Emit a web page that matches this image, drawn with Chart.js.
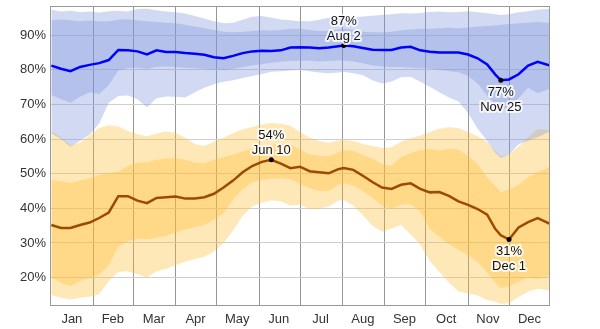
<!DOCTYPE html>
<html>
<head>
<meta charset="utf-8">
<script src="https://cdn.jsdelivr.net/npm/chart.js@4.4.0/dist/chart.umd.min.js"></script>
<style>
  html, body { margin: 0; padding: 0; background: #fff; }
  #wrap { width: 600px; height: 329px; }
</style>
</head>
<body>
<div id="wrap"><canvas id="c" width="600" height="329"></canvas></div>
<script>
// Calendar (leap year) and axis labels
const monthNames = ['Jan','Feb','Mar','Apr','May','Jun','Jul','Aug','Sep','Oct','Nov','Dec'];
const monthLengths = [31,29,31,30,31,30,31,31,30,31,30,31];
const yTicks = [20,30,40,50,60,70,80,90];

// Day of year for each sample
const days = [1,8,15,22,29,36,43,50,57,64,71,78,85,92,99,106,113,120,127,134,141,148,155,162,169,176,183,190,197,204,211,215,222,229,236,243,250,257,264,271,278,285,292,299,306,313,320,326,330,336,343,350,357,366];

// Daily high relative humidity (%): median and percentile bands
const hiMedian = [81.2,80.3,79.6,80.8,81.4,81.9,82.8,85.7,85.6,85.3, 84.4,85.6,85.1,85.1,84.8,84.6,84.3,83.6,83.3,84.0, 84.8,85.3,85.5,85.4,85.6,86.4,86.5,86.4,86.2,86.4, 86.8,87.0,86.8,86.3,85.8,85.7,85.7,86.4,86.6,85.6, 85.2,85.0,85.0,85.0,84.4,83.3,81.5,78.6,77.0,77.2, 78.7,81.2,82.3,81.2];
const hiP90 = [97.3,96.8,97.0,96.6,96.8,96.5,96.9,97.0,96.8,97.5, 97.6,97.2,96.8,96.6,96.2,95.5,94.8,94.0,93.4,93.6, 94.4,95.3,95.5,95.0,94.5,94.3,94.0,94.0,94.4,95.0, 95.3,95.2,95.0,95.4,95.6,95.8,96.0,96.3,96.2,96.4, 96.7,96.8,96.6,96.7,96.9,96.6,96.3,96.0,95.8,96.0, 96.6,96.9,97.3,97.6];
const hiP75 = [94.3,94.5,94.3,94.0,94.2,94.0,94.0,94.4,94.6,94.3, 94.0,93.8,93.6,93.4,93.0,92.5,92.0,91.5,91.0,90.8, 91.0,91.2,91.4,91.3,91.5,91.8,91.8,91.5,91.2,91.3, 91.6,91.8,91.6,91.0,90.8,90.8,91.0,91.4,91.6,91.8, 91.8,92.0,92.2,92.0,92.2,92.5,92.6,92.8,93.0,93.2, 93.4,93.6,93.8,93.5];
const hiP25 = [72.7,71.5,70.5,72.2,73.5,73.0,75.5,79.8,80.5,80.6, 80.2,80.8,80.9,80.8,80.6,80.4,80.2,80.0,79.9,80.2, 80.8,81.2,81.6,82.0,82.3,82.5,82.6,82.6,82.4,82.5, 82.7,82.6,82.4,81.9,81.2,80.9,80.7,80.8,80.6,80.4, 80.3,80.0,79.6,79.3,78.2,76.0,72.5,70.0,68.6,69.0, 71.8,74.8,73.2,74.5];
const hiP10 = [61.7,60.0,57.8,59.5,61.2,64.5,70.5,72.4,72.6,71.5, 69.2,71.8,72.3,72.2,72.0,73.5,74.8,75.8,76.5,77.0, 77.6,78.2,78.8,79.4,79.6,79.8,80.0,79.6,79.2,79.0, 79.2,79.4,79.0,78.4,77.0,76.0,76.6,77.8,78.0,76.5, 75.1,73.5,72.0,70.8,67.5,63.0,59.5,56.0,54.5,55.5, 58.5,59.5,60.5,62.2];

// Daily low relative humidity (%): median and percentile bands
const loMedian = [35.2,34.3,34.3,35.2,35.9,37.2,38.8,43.5,43.5,42.2, 41.5,43.0,43.2,43.4,42.8,42.8,43.2,44.2,46.0,48.0, 50.4,52.2,53.4,54.0,52.9,51.6,52.0,50.7,50.4,50.1, 51.3,51.6,51.1,49.4,47.6,46.0,45.6,46.8,47.2,45.6, 44.6,44.7,43.6,42.0,41.0,39.8,38.2,34.0,32.2,31.0, 34.5,36.0,37.2,35.5];
const loP90 = [62.1,60.5,58.2,59.0,61.0,63.2,64.0,63.6,62.3,61.4, 60.8,61.6,62.2,61.8,60.4,58.6,58.0,59.2,60.4,61.7, 62.8,63.5,64.2,64.6,64.4,63.8,62.0,60.4,59.4,58.9, 59.6,59.8,59.4,58.6,58.0,57.4,57.6,59.2,60.2,61.0, 62.0,63.0,63.4,63.2,62.0,60.8,59.2,56.5,55.0,55.6, 57.8,60.5,63.0,62.5];
const loP75 = [48.2,47.8,47.3,48.0,48.6,49.6,50.2,50.6,52.2,53.2, 53.4,54.0,54.4,54.5,54.0,53.2,53.0,54.0,54.8,55.5, 56.4,57.2,57.8,58.2,58.8,58.6,56.8,55.6,55.2,55.0, 56.2,56.8,56.6,55.4,54.4,52.8,52.2,54.8,56.0,56.8, 57.2,56.6,57.2,57.0,55.0,52.8,49.0,46.5,44.6,45.4, 46.8,49.0,50.4,52.0];
const loP25 = [20.0,18.5,17.6,19.0,19.8,20.8,23.5,29.0,30.5,31.3, 31.0,31.5,32.0,33.0,33.9,34.6,35.2,36.8,38.5,42.5, 45.5,47.6,48.2,48.5,48.7,48.4,47.0,45.8,45.0,45.0, 46.8,47.2,46.5,45.0,43.0,40.8,39.8,41.0,41.2,39.0, 34.0,31.8,29.6,28.0,26.5,24.5,21.5,18.5,17.0,17.4, 18.8,20.0,19.5,20.5];
const loP10 = [15.0,14.2,13.6,14.2,14.5,15.2,19.0,21.6,21.8,21.0, 20.0,21.8,22.5,23.6,24.6,25.4,26.0,27.5,30.0,33.5, 37.8,40.5,41.6,42.3,42.0,40.8,41.0,39.8,39.8,40.6, 42.2,42.4,40.8,38.0,35.0,33.2,34.2,35.2,32.5,29.5, 24.8,21.6,18.6,16.0,15.4,14.8,13.5,13.0,12.4,12.6, 14.4,16.0,16.8,16.2];

// Month boundaries and mid-month label positions
const monthStarts = [];
{ let acc = 1; for (const len of monthLengths) { monthStarts.push(acc); acc += len; } }
const monthMids = monthStarts.map((s, i) => s + (monthLengths[i] - 1) / 2);
const boundaryTicks = monthStarts.slice(1);

const FONT = 'Arial, "Liberation Sans", sans-serif';
const HI_FILL = 'rgba(126,149,221,0.35)';
const LO_FILL = 'rgba(255,190,50,0.35)';
const NONE = 'rgba(0,0,0,0)';

const pts = arr => days.map((d, i) => ({ x: d, y: arr[i] }));
const bandSet = (arr, fill, color, order) => ({
  data: pts(arr), fill: fill, backgroundColor: color, borderColor: NONE,
  borderWidth: 0, pointRadius: 0, tension: 0, order: order
});

function dateLabel(day) {
  let m = 0, d = day;
  while (d > monthLengths[m]) { d -= monthLengths[m]; m++; }
  return monthNames[m] + ' ' + d;
}

// Extremes of each median line, labelled with value and date
const extremesPlugin = {
  id: 'extremes',
  afterDatasetsDraw(chart) {
    const { ctx, scales: { x, y } } = chart;
    const items = [];
    for (const arr of [hiMedian, loMedian]) {
      let iMax = 0, iMin = 0;
      arr.forEach((v, i) => { if (v > arr[iMax]) iMax = i; if (v < arr[iMin]) iMin = i; });
      items.push({ arr, i: iMax, above: true });
      items.push({ arr, i: iMin, above: false });
    }
    ctx.save();
    ctx.font = '13px ' + FONT;
    ctx.textAlign = 'center';
    ctx.textBaseline = 'middle';
    ctx.lineJoin = 'round';
    for (const it of items) {
      const px = x.getPixelForValue(days[it.i]);
      const py = y.getPixelForValue(it.arr[it.i]);
      ctx.fillStyle = '#000';
      ctx.beginPath();
      ctx.arc(px, py, 2.5, 0, Math.PI * 2);
      ctx.fill();
      const lines = [Math.round(it.arr[it.i]) + '%', dateLabel(days[it.i])];
      const offs = it.above ? [-24, -9] : [12, 27];
      lines.forEach((t, k) => {
        ctx.strokeStyle = 'rgba(255,255,255,0.8)';
        ctx.lineWidth = 4;
        ctx.strokeText(t, px, py + offs[k]);
        ctx.fillStyle = '#111';
        ctx.fillText(t, px, py + offs[k]);
      });
    }
    ctx.restore();
  },
  afterDraw(chart) {
    const { ctx, chartArea: a } = chart;
    ctx.save();
    ctx.strokeStyle = '#999';
    ctx.lineWidth = 1;
    ctx.strokeRect(a.left + 0.5, a.top + 0.5, a.right - a.left - 1, a.bottom - a.top - 1);
    ctx.restore();
  }
};

new Chart(document.getElementById('c'), {
  type: 'line',
  data: {
    datasets: [
      bandSet(loP90, 1, LO_FILL, 2),
      bandSet(loP10, false, NONE, 2),
      bandSet(loP75, 3, LO_FILL, 2),
      bandSet(loP25, false, NONE, 2),
      bandSet(hiP90, 5, HI_FILL, 1),
      bandSet(hiP10, false, NONE, 1),
      bandSet(hiP75, 7, HI_FILL, 1),
      bandSet(hiP25, false, NONE, 1),
      { data: pts(loMedian), borderColor: '#9c4a00', borderWidth: 2.5, pointRadius: 0, tension: 0, fill: false, order: 0 },
      { data: pts(hiMedian), borderColor: '#0000ff', borderWidth: 2.5, pointRadius: 0, tension: 0, fill: false, order: 0 }
    ]
  },
  options: {
    responsive: false,
    animation: false,
    events: [],
    layout: { padding: { top: 6, right: 50, bottom: 0, left: 0 } },
    plugins: { legend: { display: false }, tooltip: { enabled: false } },
    scales: {
      x: {
        type: 'linear',
        min: 0,
        max: 366,
        afterBuildTicks: s => { s.ticks = [...boundaryTicks, ...monthMids].sort((a, b) => a - b).map(v => ({ value: v })); },
        afterFit: s => { s.height = 23; s.paddingLeft = 0; s.paddingRight = 0; },
        border: { display: false },
        grid: {
          drawTicks: false,
          color: c => (c.tick && boundaryTicks.includes(c.tick.value)) ? '#959595' : NONE,
          lineWidth: 1
        },
        ticks: {
          autoSkip: false,
          maxRotation: 0,
          padding: 6,
          color: '#333',
          font: { family: FONT, size: 13 },
          callback: v => { const i = monthMids.indexOf(v); return i >= 0 ? monthNames[i] : ''; }
        }
      },
      y: {
        type: 'linear',
        min: 11.8,
        max: 98.4,
        afterBuildTicks: s => { s.ticks = yTicks.map(v => ({ value: v })); },
        afterFit: s => { s.width = 50; s.paddingTop = 0; s.paddingBottom = 0; },
        border: { display: false },
        grid: { drawTicks: false, color: '#cfcfcf', lineWidth: 1 },
        ticks: {
          autoSkip: false,
          padding: 4,
          color: '#333',
          font: { family: FONT, size: 13 },
          callback: v => v + '%'
        }
      }
    }
  },
  plugins: [extremesPlugin]
});
</script>
</body>
</html>
